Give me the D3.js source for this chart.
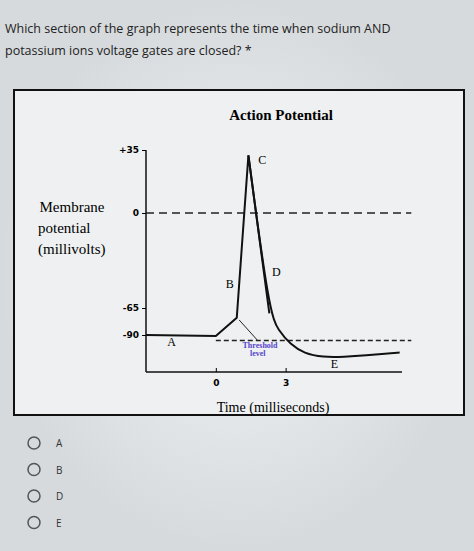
<!DOCTYPE html>
<html><head><meta charset="utf-8">
<script src="https://cdn.jsdelivr.net/npm/d3@7"></script>
<style>body{margin:0;background:#dfe3e6;}</style>
</head><body>
<script>
// Membrane potential trace (time in ms, mV)
var times = [-3, 0, 0.9, 1.4, 2.3, 2.7, 3.2, 3.8, 4.6, 5.5, 6.5, 7.3, 7.9];
var volts = [-90, -90.5, -74, 32, -70, -86, -95, -100, -102, -101.8, -101, -100, -99.5];
var yTicks = [35, 0, -65, -90];
var yTickLabels = ["+35", "0", "-65", "-90"];
var xTicks = [0, 3];
var thresholdLevel = -93;
var segLabels = [
  {t: "A", time: -1.9, v: -96},
  {t: "B", time: 0.6, v: -51},
  {t: "C", time: 2.0, v: 27},
  {t: "D", time: 2.6, v: -43},
  {t: "E", time: 5.1, v: -108}
];
var options = ["A", "B", "D", "E"];

var svg = d3.select("body").append("svg").attr("width", 474).attr("height", 551);
var bg = svg.append("defs").append("radialGradient").attr("id", "bg");
bg.append("stop").attr("offset", "0%").attr("stop-color", "#f2f4f5");
bg.append("stop").attr("offset", "100%").attr("stop-color", "#d6dadd");
svg.append("rect").attr("width", 474).attr("height", 551).attr("fill", "url(#bg)");

svg.append("text").attr("x", 5).attr("y", 33).attr("font-family", "Open Sans").attr("font-size", 12.5).attr("fill", "#222")
  .text("Which section of the graph represents the time when sodium AND");
svg.append("text").attr("x", 5).attr("y", 55).attr("font-family", "Open Sans").attr("font-size", 12.5).attr("fill", "#222")
  .text("potassium ions voltage gates are closed? *");

// frame
svg.append("rect").attr("x", 14).attr("y", 90).attr("width", 450).attr("height", 325)
  .attr("fill", "#eef0f1").attr("stroke", "#111").attr("stroke-width", 2);

var x = d3.scaleLinear().domain([-3, 8]).range([146, 402]);
var y = d3.scaleLinear().domain([-110, -90, -65, 0, 35]).range([372, 335, 308, 213, 150]);
var serif = "Liberation Serif";

svg.append("text").attr("x", 281).attr("y", 120).attr("text-anchor", "middle").attr("font-family", serif)
  .attr("font-weight", "bold").attr("font-size", 15).text("Action Potential");

// axes
svg.append("line").attr("x1", x(-3)).attr("x2", x(-3)).attr("y1", y(35)).attr("y2", y(-110)).attr("stroke", "#111").attr("stroke-width", 1.5);
svg.append("line").attr("x1", x(-3)).attr("x2", x(8)).attr("y1", y(-110)).attr("y2", y(-110)).attr("stroke", "#111").attr("stroke-width", 1.5);
var yAxis = d3.axisLeft(y).tickValues(yTicks).tickSize(4).tickFormat(function(d, i) { return yTickLabels[i]; });
var ga = svg.append("g").attr("transform", "translate(" + x(-3) + ",0)").call(yAxis);
ga.select(".domain").remove();
ga.selectAll("text").attr("font-family", "DejaVu Sans").attr("font-weight", "bold").attr("font-size", 9);
var xAxis = d3.axisBottom(x).tickValues(xTicks).tickSize(-4).tickPadding(8);
var gx = svg.append("g").attr("transform", "translate(0," + y(-110) + ")").call(xAxis);
gx.select(".domain").remove();
gx.selectAll("text").attr("font-family", "DejaVu Sans").attr("font-weight", "bold").attr("font-size", 9);

svg.append("text").attr("x", 72).attr("y", 212).attr("text-anchor", "middle").attr("font-family", serif).attr("font-size", 15).text("Membrane");
svg.append("text").attr("x", 38).attr("y", 233).attr("font-family", serif).attr("font-size", 15).text("potential");
svg.append("text").attr("x", 38).attr("y", 254).attr("font-family", serif).attr("font-size", 15).text("(millivolts)");
svg.append("text").attr("x", 273).attr("y", 412).attr("text-anchor", "middle").attr("font-family", serif).attr("font-size", 14).text("Time (milliseconds)");

// dashed reference lines
svg.append("line").attr("x1", x(-3)).attr("x2", x(8.4)).attr("y1", y(0)).attr("y2", y(0))
  .attr("stroke", "#222").attr("stroke-width", 1.5).attr("stroke-dasharray", "8,5");
svg.append("line").attr("x1", x(0)).attr("x2", x(8.4)).attr("y1", y(thresholdLevel)).attr("y2", y(thresholdLevel))
  .attr("stroke", "#222").attr("stroke-width", 1.5).attr("stroke-dasharray", "5,3");

// trace: straight rise and fall, smooth recovery
var pts = times.map(function(t, i) { return [t, volts[i]]; });
svg.append("path").datum(pts.slice(0, 5)).attr("fill", "none").attr("stroke", "#111").attr("stroke-width", 2)
  .attr("d", d3.line().x(function(d) { return x(d[0]); }).y(function(d) { return y(d[1]); }));
svg.append("path").datum(pts.slice(3)).attr("fill", "none").attr("stroke", "#111").attr("stroke-width", 2)
  .attr("d", d3.line().curve(d3.curveBasis).x(function(d) { return x(d[0]); }).y(function(d) { return y(d[1]); }));

// threshold pointer
svg.append("line").attr("x1", x(1.0)).attr("y1", y(-76)).attr("x2", x(1.8)).attr("y2", y(thresholdLevel))
  .attr("stroke", "#222").attr("stroke-width", 1);
svg.append("text").attr("x", x(1.9)).attr("y", y(-97)).attr("text-anchor", "middle").attr("font-family", serif)
  .attr("font-weight", "bold").attr("font-size", 8).attr("fill", "#5544cc").text("Threshold");
svg.append("text").attr("x", x(1.8)).attr("y", y(-101.5)).attr("text-anchor", "middle").attr("font-family", serif)
  .attr("font-weight", "bold").attr("font-size", 8).attr("fill", "#5544cc").text("level");

svg.selectAll(".seg").data(segLabels).enter().append("text")
  .attr("x", function(d) { return x(d.time); }).attr("y", function(d) { return y(d.v); })
  .attr("text-anchor", "middle").attr("font-family", serif).attr("font-size", 12).text(function(d) { return d.t; });

// answer options
var opt = svg.selectAll(".opt").data(options).enter().append("g")
  .attr("transform", function(d, i) { return "translate(34," + (443 + i * 26.5) + ")"; });
opt.append("circle").attr("r", 6).attr("fill", "none").attr("stroke", "#555").attr("stroke-width", 1.5);
opt.append("text").attr("x", 22).attr("y", 4).attr("font-family", "Open Sans").attr("font-size", 10).attr("fill", "#333").text(function(d) { return d; });
</script>
</body></html>
